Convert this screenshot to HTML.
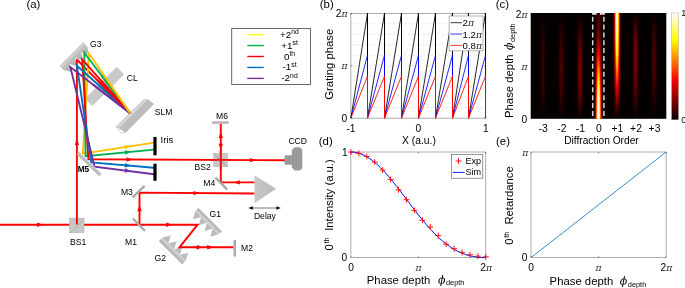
<!DOCTYPE html>
<html lang="en"><head><meta charset="utf-8"><title>Figure</title>
<style>
html,body{margin:0;padding:0;background:#fff;}
svg{display:block;font-family:"Liberation Sans",sans-serif;fill:#000;}
.pi{font-family:"DejaVu Serif","Liberation Serif",serif;font-style:italic;font-size:9.3px;fill:#2a2a2a;}
.phi{font-family:"DejaVu Serif","Liberation Serif",serif;font-style:italic;font-size:11px;}
.sub{font-size:7.4px;}
.lbl{font-size:8.6px;}
.tk{font-size:10.2px;}
.ax{font-size:11.3px;}
.pan{font-size:11.4px;}
.beam{fill:none;stroke-width:1.9;stroke-linejoin:miter;stroke-miterlimit:12;stroke-linecap:butt;}
</style></head><body>
<svg width="685" height="288" viewBox="0 0 685 288">
<defs>
<filter id="hot" x="0" y="0" width="100%" height="100%" color-interpolation-filters="sRGB"><feComponentTransfer><feFuncR type="table" tableValues="0.018 0.3333 0.6667 1 1 1 1 1 1"/><feFuncG type="table" tableValues="0 0 0 0 0.3333 0.6667 1 1 1"/><feFuncB type="table" tableValues="0 0 0 0 0 0 0 0.5 1"/></feComponentTransfer></filter>
<linearGradient id="cb" x1="0" y1="1" x2="0" y2="0"><stop offset="0" stop-color="#060000"/><stop offset="0.375" stop-color="#ff0000"/><stop offset="0.75" stop-color="#ffff00"/><stop offset="1" stop-color="#ffffff"/></linearGradient>
<linearGradient id="v0" x1="0" y1="0" x2="0" y2="1"><stop offset="0.0000" stop-color="#fff" stop-opacity="0.000"/><stop offset="0.0417" stop-color="#fff" stop-opacity="0.009"/><stop offset="0.0833" stop-color="#fff" stop-opacity="0.019"/><stop offset="0.1250" stop-color="#fff" stop-opacity="0.028"/><stop offset="0.1667" stop-color="#fff" stop-opacity="0.037"/><stop offset="0.2083" stop-color="#fff" stop-opacity="0.045"/><stop offset="0.2500" stop-color="#fff" stop-opacity="0.053"/><stop offset="0.2917" stop-color="#fff" stop-opacity="0.060"/><stop offset="0.3333" stop-color="#fff" stop-opacity="0.066"/><stop offset="0.3750" stop-color="#fff" stop-opacity="0.071"/><stop offset="0.4167" stop-color="#fff" stop-opacity="0.076"/><stop offset="0.4583" stop-color="#fff" stop-opacity="0.078"/><stop offset="0.5000" stop-color="#fff" stop-opacity="0.080"/><stop offset="0.5417" stop-color="#fff" stop-opacity="0.080"/><stop offset="0.5833" stop-color="#fff" stop-opacity="0.079"/><stop offset="0.6250" stop-color="#fff" stop-opacity="0.077"/><stop offset="0.6667" stop-color="#fff" stop-opacity="0.073"/><stop offset="0.7083" stop-color="#fff" stop-opacity="0.068"/><stop offset="0.7500" stop-color="#fff" stop-opacity="0.061"/><stop offset="0.7917" stop-color="#fff" stop-opacity="0.053"/><stop offset="0.8333" stop-color="#fff" stop-opacity="0.044"/><stop offset="0.8750" stop-color="#fff" stop-opacity="0.034"/><stop offset="0.9167" stop-color="#fff" stop-opacity="0.024"/><stop offset="0.9583" stop-color="#fff" stop-opacity="0.012"/><stop offset="1.0000" stop-color="#fff" stop-opacity="0.000"/></linearGradient>
<linearGradient id="v1" x1="0" y1="0" x2="0" y2="1"><stop offset="0.0000" stop-color="#fff" stop-opacity="0.000"/><stop offset="0.0417" stop-color="#fff" stop-opacity="0.012"/><stop offset="0.0833" stop-color="#fff" stop-opacity="0.025"/><stop offset="0.1250" stop-color="#fff" stop-opacity="0.037"/><stop offset="0.1667" stop-color="#fff" stop-opacity="0.049"/><stop offset="0.2083" stop-color="#fff" stop-opacity="0.061"/><stop offset="0.2500" stop-color="#fff" stop-opacity="0.072"/><stop offset="0.2917" stop-color="#fff" stop-opacity="0.082"/><stop offset="0.3333" stop-color="#fff" stop-opacity="0.091"/><stop offset="0.3750" stop-color="#fff" stop-opacity="0.099"/><stop offset="0.4167" stop-color="#fff" stop-opacity="0.105"/><stop offset="0.4583" stop-color="#fff" stop-opacity="0.109"/><stop offset="0.5000" stop-color="#fff" stop-opacity="0.112"/><stop offset="0.5417" stop-color="#fff" stop-opacity="0.113"/><stop offset="0.5833" stop-color="#fff" stop-opacity="0.112"/><stop offset="0.6250" stop-color="#fff" stop-opacity="0.109"/><stop offset="0.6667" stop-color="#fff" stop-opacity="0.104"/><stop offset="0.7083" stop-color="#fff" stop-opacity="0.097"/><stop offset="0.7500" stop-color="#fff" stop-opacity="0.088"/><stop offset="0.7917" stop-color="#fff" stop-opacity="0.077"/><stop offset="0.8333" stop-color="#fff" stop-opacity="0.065"/><stop offset="0.8750" stop-color="#fff" stop-opacity="0.050"/><stop offset="0.9167" stop-color="#fff" stop-opacity="0.035"/><stop offset="0.9583" stop-color="#fff" stop-opacity="0.018"/><stop offset="1.0000" stop-color="#fff" stop-opacity="0.000"/></linearGradient>
<linearGradient id="v2" x1="0" y1="0" x2="0" y2="1"><stop offset="0.0000" stop-color="#fff" stop-opacity="0.000"/><stop offset="0.0417" stop-color="#fff" stop-opacity="0.019"/><stop offset="0.0833" stop-color="#fff" stop-opacity="0.038"/><stop offset="0.1250" stop-color="#fff" stop-opacity="0.057"/><stop offset="0.1667" stop-color="#fff" stop-opacity="0.076"/><stop offset="0.2083" stop-color="#fff" stop-opacity="0.095"/><stop offset="0.2500" stop-color="#fff" stop-opacity="0.113"/><stop offset="0.2917" stop-color="#fff" stop-opacity="0.130"/><stop offset="0.3333" stop-color="#fff" stop-opacity="0.146"/><stop offset="0.3750" stop-color="#fff" stop-opacity="0.159"/><stop offset="0.4167" stop-color="#fff" stop-opacity="0.171"/><stop offset="0.4583" stop-color="#fff" stop-opacity="0.180"/><stop offset="0.5000" stop-color="#fff" stop-opacity="0.187"/><stop offset="0.5417" stop-color="#fff" stop-opacity="0.190"/><stop offset="0.5833" stop-color="#fff" stop-opacity="0.191"/><stop offset="0.6250" stop-color="#fff" stop-opacity="0.188"/><stop offset="0.6667" stop-color="#fff" stop-opacity="0.182"/><stop offset="0.7083" stop-color="#fff" stop-opacity="0.172"/><stop offset="0.7500" stop-color="#fff" stop-opacity="0.158"/><stop offset="0.7917" stop-color="#fff" stop-opacity="0.141"/><stop offset="0.8333" stop-color="#fff" stop-opacity="0.120"/><stop offset="0.8750" stop-color="#fff" stop-opacity="0.095"/><stop offset="0.9167" stop-color="#fff" stop-opacity="0.067"/><stop offset="0.9583" stop-color="#fff" stop-opacity="0.035"/><stop offset="1.0000" stop-color="#fff" stop-opacity="0.000"/></linearGradient>
<linearGradient id="v3" x1="0" y1="0" x2="0" y2="1"><stop offset="0.0000" stop-color="#fff" stop-opacity="0.122"/><stop offset="0.0417" stop-color="#fff" stop-opacity="0.123"/><stop offset="0.0833" stop-color="#fff" stop-opacity="0.127"/><stop offset="0.1250" stop-color="#fff" stop-opacity="0.138"/><stop offset="0.1667" stop-color="#fff" stop-opacity="0.157"/><stop offset="0.2083" stop-color="#fff" stop-opacity="0.185"/><stop offset="0.2500" stop-color="#fff" stop-opacity="0.221"/><stop offset="0.2917" stop-color="#fff" stop-opacity="0.264"/><stop offset="0.3333" stop-color="#fff" stop-opacity="0.313"/><stop offset="0.3750" stop-color="#fff" stop-opacity="0.366"/><stop offset="0.4167" stop-color="#fff" stop-opacity="0.423"/><stop offset="0.4583" stop-color="#fff" stop-opacity="0.482"/><stop offset="0.5000" stop-color="#fff" stop-opacity="0.541"/><stop offset="0.5417" stop-color="#fff" stop-opacity="0.601"/><stop offset="0.5833" stop-color="#fff" stop-opacity="0.660"/><stop offset="0.6250" stop-color="#fff" stop-opacity="0.717"/><stop offset="0.6667" stop-color="#fff" stop-opacity="0.771"/><stop offset="0.7083" stop-color="#fff" stop-opacity="0.820"/><stop offset="0.7500" stop-color="#fff" stop-opacity="0.865"/><stop offset="0.7917" stop-color="#fff" stop-opacity="0.905"/><stop offset="0.8333" stop-color="#fff" stop-opacity="0.938"/><stop offset="0.8750" stop-color="#fff" stop-opacity="0.965"/><stop offset="0.9167" stop-color="#fff" stop-opacity="0.984"/><stop offset="0.9583" stop-color="#fff" stop-opacity="0.996"/><stop offset="1.0000" stop-color="#fff" stop-opacity="1.000"/></linearGradient>
<linearGradient id="v4" x1="0" y1="0" x2="0" y2="1"><stop offset="0.0000" stop-color="#fff" stop-opacity="1.000"/><stop offset="0.0417" stop-color="#fff" stop-opacity="0.997"/><stop offset="0.0833" stop-color="#fff" stop-opacity="0.989"/><stop offset="0.1250" stop-color="#fff" stop-opacity="0.974"/><stop offset="0.1667" stop-color="#fff" stop-opacity="0.955"/><stop offset="0.2083" stop-color="#fff" stop-opacity="0.930"/><stop offset="0.2500" stop-color="#fff" stop-opacity="0.900"/><stop offset="0.2917" stop-color="#fff" stop-opacity="0.866"/><stop offset="0.3333" stop-color="#fff" stop-opacity="0.827"/><stop offset="0.3750" stop-color="#fff" stop-opacity="0.784"/><stop offset="0.4167" stop-color="#fff" stop-opacity="0.738"/><stop offset="0.4583" stop-color="#fff" stop-opacity="0.689"/><stop offset="0.5000" stop-color="#fff" stop-opacity="0.637"/><stop offset="0.5417" stop-color="#fff" stop-opacity="0.583"/><stop offset="0.5833" stop-color="#fff" stop-opacity="0.527"/><stop offset="0.6250" stop-color="#fff" stop-opacity="0.471"/><stop offset="0.6667" stop-color="#fff" stop-opacity="0.413"/><stop offset="0.7083" stop-color="#fff" stop-opacity="0.357"/><stop offset="0.7500" stop-color="#fff" stop-opacity="0.300"/><stop offset="0.7917" stop-color="#fff" stop-opacity="0.245"/><stop offset="0.8333" stop-color="#fff" stop-opacity="0.191"/><stop offset="0.8750" stop-color="#fff" stop-opacity="0.139"/><stop offset="0.9167" stop-color="#fff" stop-opacity="0.090"/><stop offset="0.9583" stop-color="#fff" stop-opacity="0.043"/><stop offset="1.0000" stop-color="#fff" stop-opacity="0.000"/></linearGradient>
<linearGradient id="v5" x1="0" y1="0" x2="0" y2="1"><stop offset="0.0000" stop-color="#fff" stop-opacity="0.000"/><stop offset="0.0417" stop-color="#fff" stop-opacity="0.035"/><stop offset="0.0833" stop-color="#fff" stop-opacity="0.067"/><stop offset="0.1250" stop-color="#fff" stop-opacity="0.095"/><stop offset="0.1667" stop-color="#fff" stop-opacity="0.120"/><stop offset="0.2083" stop-color="#fff" stop-opacity="0.141"/><stop offset="0.2500" stop-color="#fff" stop-opacity="0.158"/><stop offset="0.2917" stop-color="#fff" stop-opacity="0.172"/><stop offset="0.3333" stop-color="#fff" stop-opacity="0.182"/><stop offset="0.3750" stop-color="#fff" stop-opacity="0.188"/><stop offset="0.4167" stop-color="#fff" stop-opacity="0.191"/><stop offset="0.4583" stop-color="#fff" stop-opacity="0.190"/><stop offset="0.5000" stop-color="#fff" stop-opacity="0.187"/><stop offset="0.5417" stop-color="#fff" stop-opacity="0.180"/><stop offset="0.5833" stop-color="#fff" stop-opacity="0.171"/><stop offset="0.6250" stop-color="#fff" stop-opacity="0.159"/><stop offset="0.6667" stop-color="#fff" stop-opacity="0.146"/><stop offset="0.7083" stop-color="#fff" stop-opacity="0.130"/><stop offset="0.7500" stop-color="#fff" stop-opacity="0.113"/><stop offset="0.7917" stop-color="#fff" stop-opacity="0.095"/><stop offset="0.8333" stop-color="#fff" stop-opacity="0.076"/><stop offset="0.8750" stop-color="#fff" stop-opacity="0.057"/><stop offset="0.9167" stop-color="#fff" stop-opacity="0.038"/><stop offset="0.9583" stop-color="#fff" stop-opacity="0.019"/><stop offset="1.0000" stop-color="#fff" stop-opacity="0.000"/></linearGradient>
<linearGradient id="v6" x1="0" y1="0" x2="0" y2="1"><stop offset="0.0000" stop-color="#fff" stop-opacity="0.000"/><stop offset="0.0417" stop-color="#fff" stop-opacity="0.018"/><stop offset="0.0833" stop-color="#fff" stop-opacity="0.035"/><stop offset="0.1250" stop-color="#fff" stop-opacity="0.050"/><stop offset="0.1667" stop-color="#fff" stop-opacity="0.065"/><stop offset="0.2083" stop-color="#fff" stop-opacity="0.077"/><stop offset="0.2500" stop-color="#fff" stop-opacity="0.088"/><stop offset="0.2917" stop-color="#fff" stop-opacity="0.097"/><stop offset="0.3333" stop-color="#fff" stop-opacity="0.104"/><stop offset="0.3750" stop-color="#fff" stop-opacity="0.109"/><stop offset="0.4167" stop-color="#fff" stop-opacity="0.112"/><stop offset="0.4583" stop-color="#fff" stop-opacity="0.113"/><stop offset="0.5000" stop-color="#fff" stop-opacity="0.112"/><stop offset="0.5417" stop-color="#fff" stop-opacity="0.109"/><stop offset="0.5833" stop-color="#fff" stop-opacity="0.105"/><stop offset="0.6250" stop-color="#fff" stop-opacity="0.099"/><stop offset="0.6667" stop-color="#fff" stop-opacity="0.091"/><stop offset="0.7083" stop-color="#fff" stop-opacity="0.082"/><stop offset="0.7500" stop-color="#fff" stop-opacity="0.072"/><stop offset="0.7917" stop-color="#fff" stop-opacity="0.061"/><stop offset="0.8333" stop-color="#fff" stop-opacity="0.049"/><stop offset="0.8750" stop-color="#fff" stop-opacity="0.037"/><stop offset="0.9167" stop-color="#fff" stop-opacity="0.025"/><stop offset="0.9583" stop-color="#fff" stop-opacity="0.012"/><stop offset="1.0000" stop-color="#fff" stop-opacity="0.000"/></linearGradient>
<linearGradient id="prism" x1="0" y1="0" x2="1" y2="0"><stop offset="0" stop-color="#c8c8c8"/><stop offset="1" stop-color="#b9b9b9"/></linearGradient>
</defs>
<rect x="0" y="0" width="685" height="288" fill="#fff"/>
<g id="panel-a">
<text class="pan" x="26.4" y="8.2">(a)</text>
<rect x="-22.5" y="-5.2" width="45" height="10.4" rx="1.6" fill="#c9c9c9" transform="translate(104.5,86.5) rotate(-45)"/>
<polygon points="118.5,128.0 147.7,99.3 154.0,104.0 125.7,132.7" fill="#bcbcbc"/>
<polygon points="115.6,126.6 144.2,98.7 148.0,99.2 118.8,128.2" fill="#d3d3d3"/>
<path d="M116.0,126.6 L118.6,127.6 L125.4,132.5 Q123,133.6 120.6,132.6 Z" fill="#fbfbfb" stroke="#b0b0b0" stroke-width="0.6"/>
<polygon points="195.40,211.10 193.00,219.40 201.20,216.90" fill="#bcbcbc"/>
<polygon points="201.20,216.90 198.80,225.20 207.00,222.70" fill="#bcbcbc"/>
<polygon points="207.00,222.70 204.60,231.00 212.80,228.50" fill="#bcbcbc"/>
<polygon points="212.80,228.50 210.40,236.80 218.60,234.30" fill="#bcbcbc"/>
<polygon points="195.40,211.10 218.60,234.30 221.71,231.19 198.51,207.99" fill="#cdcdcd"/>
<polygon points="196.80,209.70 220.00,232.90 221.71,231.19 198.51,207.99" fill="#b9b9b9"/>
<polygon points="162.50,237.60 170.80,235.40 168.30,243.40" fill="#bcbcbc"/>
<polygon points="168.30,243.40 176.60,241.20 174.10,249.20" fill="#bcbcbc"/>
<polygon points="174.10,249.20 182.40,247.00 179.90,255.00" fill="#bcbcbc"/>
<polygon points="179.90,255.00 188.20,252.80 185.70,260.80" fill="#bcbcbc"/>
<polygon points="162.50,237.60 185.70,260.80 182.16,264.34 158.96,241.14" fill="#cdcdcd"/>
<polygon points="160.91,239.19 184.11,262.39 182.16,264.34 158.96,241.14" fill="#b9b9b9"/>
<polygon points="87.20,46.40 88.70,54.40 81.30,52.30" fill="#b4b4b4"/>
<polygon points="81.30,52.30 82.80,60.30 75.40,58.20" fill="#b4b4b4"/>
<polygon points="75.40,58.20 76.90,66.20 69.50,64.10" fill="#b4b4b4"/>
<polygon points="69.50,64.10 71.00,72.10 63.60,70.00" fill="#b4b4b4"/>
<polygon points="87.20,46.40 63.60,70.00 59.57,65.97 83.17,42.37" fill="#bdbdbd"/>
<polygon points="85.39,44.59 61.79,68.19 59.57,65.97 83.17,42.37" fill="#cfcfcf"/>
<g class="beam">
<path d="M0,224.7 H197.6 L179.5,247.3 H233.5" stroke="#ff0000"/>
</g>
<rect x="69.4" y="218.1" width="14.6" height="14.6" fill="#c6c6c6" stroke="#ababab" stroke-width="0.5"/>
<path d="M69.9,232.8 L84.1,218.6" stroke="#a6a6a6" stroke-width="0.8" fill="none"/>
<path d="M69.3,232.2 L83.5,218.0" stroke="#dcdcdc" stroke-width="0.8" fill="none"/>
<path class="beam" d="M129.8,112.9 L77.6,60.3 L76.9,60.3 V224.4" stroke="#ff0000"/>
<g class="beam">
<path d="M139.5,224.7 V192.6 L254.6,193.5" stroke="#ff0000"/>
<path d="M254.6,182.4 H220.8 V123.8" stroke="#ff0000"/>
<path d="M129.8,112.9 L88.9,53.5 L82.9,153.6 L154,142.6" stroke="#ffc000"/>
<path d="M129.8,112.9 L84.3,52.8 L85.6,156.3 L154,149.6" stroke="#00b050"/>
<path d="M129.8,112.9 L82.2,59.4 L88.4,159.2 L285.5,160.3" stroke="#ff0000"/>
<path d="M129.8,112.9 L76.9,65.7 L91.3,162.4 L154,167.7" stroke="#0070c0"/>
<path d="M129.8,112.9 L70.4,67.1 L94.5,166.6 L154,174.2" stroke="#7030a0"/>
<path d="M129.8,112.9 L97.00,83.64" stroke="#0070c0"/>
<path d="M129.8,112.9 L101.59,75.64" stroke="#00b050"/>
<path d="M129.8,112.9 L97.44,80.29" stroke="#ff0000"/>
<path d="M129.8,112.9 L100.29,79.73" stroke="#ff0000"/>
<path d="M129.8,112.9 L92.97,84.50" stroke="#7030a0"/>
<path d="M129.8,112.9 L104.44,76.07" stroke="#ffc000"/>
</g>
<polygon points="76.45,154.19 99.25,176.19 101.55,173.81 78.75,151.81" fill="#b9b9b9" />
<polygon points="78.19,152.42 100.99,174.42 101.61,173.78 78.81,151.78" fill="#d4d4d4" />
<rect x="153.4" y="136.9" width="3.2" height="18.4" fill="#000"/>
<rect x="153.4" y="163.7" width="3.2" height="17.1" fill="#000"/>
<polygon points="132.04,219.33 144.14,231.83 145.86,230.17 133.76,217.67" fill="#a9a9a9" />
<polygon points="133.33,198.17 145.43,186.67 143.77,184.93 131.67,196.43" fill="#a9a9a9" />
<polygon points="214.54,178.34 226.44,190.44 228.16,188.76 216.26,176.66" fill="#a9a9a9" />
<rect x="233.5" y="240.0" width="2.5" height="16.5" fill="#ababab"/>
<rect x="212.1" y="121.3" width="16.6" height="2.5" fill="#b5b5b5"/>
<rect x="213.1" y="152.9" width="14.8" height="14.2" fill="#b4b4b4" fill-opacity="0.72"/>
<path d="M213.6,153.4 L227.4,166.6" stroke="#9a9a9a" stroke-opacity="0.7" stroke-width="1.1" fill="none"/>
<path class="beam" d="M220.8,150 V170" stroke="#ff0000" stroke-opacity="0.85"/>
<path class="beam" d="M210,159.9 H231" stroke="#ff0000" stroke-opacity="0.85"/>
<polygon points="254.5,175.2 254.5,203.3 276.0,188.8" fill="url(#prism)"/>
<path d="M250,208 H279" stroke="#555" stroke-width="0.8" fill="none"/>
<polygon points="2.20,0 -2.20,1.70 -2.20,-1.70" fill="#000" transform="translate(250.60,208.00) rotate(180.0)"/>
<polygon points="2.20,0 -2.20,1.70 -2.20,-1.70" fill="#000" transform="translate(278.60,208.00) rotate(0.0)"/>
<path d="M285.6,155.2 Q284.6,155.2 284.6,156.2 V163.8 Q284.6,164.8 285.6,164.8 H291.8 V167.6 L294.6,170.6 H299.8 L302.3,168.2 V149.8 L299.8,147.3 H294.6 L291.8,150.2 V155.2 Z" fill="#9a9a9a"/>
<polygon points="3.10,0 -3.10,2.20 -3.10,-2.20" fill="#ff0000" transform="translate(40.20,224.70) rotate(0.0)"/>
<polygon points="3.10,0 -3.10,2.20 -3.10,-2.20" fill="#ff0000" transform="translate(76.90,141.80) rotate(-90.0)"/>
<polygon points="3.10,0 -3.10,2.20 -3.10,-2.20" fill="#ff0000" transform="translate(169.20,224.70) rotate(0.0)"/>
<polygon points="3.10,0 -3.10,2.20 -3.10,-2.20" fill="#ff0000" transform="translate(139.50,208.20) rotate(-90.0)"/>
<polygon points="3.10,0 -3.10,2.20 -3.10,-2.20" fill="#ff0000" transform="translate(196.60,193.10) rotate(0.0)"/>
<polygon points="3.10,0 -3.10,2.20 -3.10,-2.20" fill="#ff0000" transform="translate(196.00,247.30) rotate(180.0)"/>
<polygon points="3.10,0 -3.10,2.20 -3.10,-2.20" fill="#ff0000" transform="translate(210.30,247.30) rotate(0.0)"/>
<polygon points="3.10,0 -3.10,2.20 -3.10,-2.20" fill="#ff0000" transform="translate(236.80,182.40) rotate(180.0)"/>
<polygon points="3.10,0 -3.10,2.20 -3.10,-2.20" fill="#ff0000" transform="translate(220.80,134.90) rotate(-90.0)"/>
<polygon points="3.10,0 -3.10,2.20 -3.10,-2.20" fill="#ff0000" transform="translate(220.80,146.90) rotate(90.0)"/>
<polygon points="3.10,0 -3.10,2.20 -3.10,-2.20" fill="#ff0000" transform="translate(129.60,159.45) rotate(0.0)"/>
<polygon points="3.10,0 -3.10,2.20 -3.10,-2.20" fill="#ff0000" transform="translate(253.30,160.10) rotate(0.0)"/>
<polygon points="3.10,0 -3.10,2.20 -3.10,-2.20" fill="#ffc000" transform="translate(128.00,146.62) rotate(-8.8)"/>
<polygon points="3.10,0 -3.10,2.20 -3.10,-2.20" fill="#00b050" transform="translate(128.00,152.15) rotate(-5.6)"/>
<polygon points="3.10,0 -3.10,2.20 -3.10,-2.20" fill="#0070c0" transform="translate(128.00,165.50) rotate(4.8)"/>
<polygon points="3.10,0 -3.10,2.20 -3.10,-2.20" fill="#7030a0" transform="translate(128.00,170.88) rotate(7.3)"/>
<text class="lbl" x="95.8" y="46.8" text-anchor="middle" >G3</text>
<text class="lbl" x="132.3" y="81.2" text-anchor="middle" >CL</text>
<text class="lbl" x="163.5" y="115.0" text-anchor="middle" >SLM</text>
<text class="lbl" style="font-size:9.6px" x="167.0" y="142.8" text-anchor="middle" >Iris</text>
<text class="lbl" style="font-weight:bold;font-size:8.3px" x="83.4" y="172.3" text-anchor="middle" >M5</text>
<text class="lbl" x="126.9" y="195.0" text-anchor="middle" >M3</text>
<text class="lbl" x="131.0" y="245.4" text-anchor="middle" >M1</text>
<text class="lbl" x="78.1" y="244.9" text-anchor="middle" >BS1</text>
<text class="lbl" x="215.3" y="217.4" text-anchor="middle" >G1</text>
<text class="lbl" x="160.2" y="261.0" text-anchor="middle" >G2</text>
<text class="lbl" x="247.1" y="250.9" text-anchor="middle" >M2</text>
<text class="lbl" x="209.3" y="186.3" text-anchor="middle" >M4</text>
<text class="lbl" x="202.6" y="169.9" text-anchor="middle" >BS2</text>
<text class="lbl" x="222.1" y="118.7" text-anchor="middle" >M6</text>
<text class="lbl" x="297.7" y="143.7" text-anchor="middle" >CCD</text>
<text class="lbl" x="264.9" y="218.9" text-anchor="middle" >Delay</text>
<rect x="231.7" y="28.5" width="78.8" height="56" fill="#fff" stroke="#595959" stroke-width="0.9"/>
<path d="M247.3,34.60 H263.8" stroke="#ffff00" stroke-width="1.4" fill="none"/>
<text x="289.5" y="37.60" text-anchor="middle" style="font-size:9.9px">+2<tspan dy="-3.3" style="font-size:6.8px">nd</tspan></text>
<path d="M247.3,45.55 H263.8" stroke="#00b050" stroke-width="1.4" fill="none"/>
<text x="289.5" y="48.55" text-anchor="middle" style="font-size:9.9px">+1<tspan dy="-3.3" style="font-size:6.8px">st</tspan></text>
<path d="M247.3,56.50 H263.8" stroke="#ff0000" stroke-width="1.4" fill="none"/>
<text x="289.5" y="59.50" text-anchor="middle" style="font-size:9.9px">0<tspan dy="-3.3" style="font-size:6.8px">th</tspan></text>
<path d="M247.3,67.45 H263.8" stroke="#0070c0" stroke-width="1.4" fill="none"/>
<text x="289.5" y="70.45" text-anchor="middle" style="font-size:9.9px">-1<tspan dy="-3.3" style="font-size:6.8px">st</tspan></text>
<path d="M247.3,78.40 H263.8" stroke="#7030a0" stroke-width="1.4" fill="none"/>
<text x="289.5" y="81.40" text-anchor="middle" style="font-size:9.9px">-2<tspan dy="-3.3" style="font-size:6.8px">nd</tspan></text>
</g>
<g id="panel-b">
<text class="pan" x="319.8" y="8.2" text-anchor="start" >(b)</text>
<rect x="350.9" y="13.3" width="134.90000000000003" height="104.8" fill="#fff"/>
<path d="M350.9,107.62 H485.8" stroke="#d9d9d9" stroke-width="0.6" stroke-dasharray="2.2 1.6" fill="none"/>
<path d="M350.9,97.14 H485.8" stroke="#d9d9d9" stroke-width="0.6" stroke-dasharray="2.2 1.6" fill="none"/>
<path d="M350.9,86.66 H485.8" stroke="#d9d9d9" stroke-width="0.6" stroke-dasharray="2.2 1.6" fill="none"/>
<path d="M350.9,76.18 H485.8" stroke="#d9d9d9" stroke-width="0.6" stroke-dasharray="2.2 1.6" fill="none"/>
<path d="M350.9,65.70 H485.8" stroke="#d9d9d9" stroke-width="0.6" stroke-dasharray="2.2 1.6" fill="none"/>
<path d="M350.9,55.22 H485.8" stroke="#d9d9d9" stroke-width="0.6" stroke-dasharray="2.2 1.6" fill="none"/>
<path d="M350.9,44.74 H485.8" stroke="#d9d9d9" stroke-width="0.6" stroke-dasharray="2.2 1.6" fill="none"/>
<path d="M350.9,34.26 H485.8" stroke="#d9d9d9" stroke-width="0.6" stroke-dasharray="2.2 1.6" fill="none"/>
<path d="M350.9,23.78 H485.8" stroke="#d9d9d9" stroke-width="0.6" stroke-dasharray="2.2 1.6" fill="none"/>
<rect x="350.9" y="13.3" width="134.90000000000003" height="104.8" fill="none" stroke="#777" stroke-width="0.6"/>
<path d="M350.90,118.10 L367.50,13.30 M367.50,118.10 L384.50,13.30 M384.50,118.10 L401.50,13.30 M401.50,118.10 L418.50,13.30 M418.50,118.10 L435.50,13.30 M435.50,118.10 L452.50,13.30 M452.50,118.10 L468.50,13.30 M468.50,118.10 L485.50,13.30 " stroke="#000" stroke-width="0.85" fill="none"/>
<path d="M367.50,13.00 V118.10 M384.50,13.00 V118.10 M401.50,13.00 V118.10 M418.50,13.00 V118.10 M435.50,13.00 V118.10 M452.50,13.00 V118.10 M468.50,13.00 V118.10 M485.50,13.00 V118.10 " stroke="#000" stroke-width="1" fill="none"/>
<path d="M350.90,118.10 L367.50,55.22 M367.50,118.10 L384.50,55.22 M384.50,118.10 L401.50,55.22 M401.50,118.10 L418.50,55.22 M418.50,118.10 L435.50,55.22 M435.50,118.10 L452.50,55.22 M452.50,118.10 L468.50,55.22 M468.50,118.10 L485.50,55.22 " stroke="#0000ff" stroke-width="0.85" fill="none"/>
<path d="M367.50,54.92 V118.10 M384.50,54.92 V118.10 M401.50,54.92 V118.10 M418.50,54.92 V118.10 M435.50,54.92 V118.10 M452.50,54.92 V118.10 M468.50,54.92 V118.10 M485.50,54.92 V118.10 " stroke="#0000ff" stroke-width="1" fill="none"/>
<path d="M350.90,118.10 L367.50,76.18 M367.50,118.10 L384.50,76.18 M384.50,118.10 L401.50,76.18 M401.50,118.10 L418.50,76.18 M418.50,118.10 L435.50,76.18 M435.50,118.10 L452.50,76.18 M452.50,118.10 L468.50,76.18 M468.50,118.10 L485.50,76.18 " stroke="#ff0000" stroke-width="0.85" fill="none"/>
<path d="M367.50,75.88 V118.10 M384.50,75.88 V118.10 M401.50,75.88 V118.10 M418.50,75.88 V118.10 M435.50,75.88 V118.10 M452.50,75.88 V118.10 M468.50,75.88 V118.10 M485.50,75.88 V118.10 " stroke="#ff0000" stroke-width="1" fill="none"/>
<path d="M350.90,118.1 v-1.4 M350.90,13.3 v1.4" stroke="#262626" stroke-width="0.5"/>
<path d="M418.35,118.1 v-1.4 M418.35,13.3 v1.4" stroke="#262626" stroke-width="0.5"/>
<path d="M485.80,118.1 v-1.4 M485.80,13.3 v1.4" stroke="#262626" stroke-width="0.5"/>
<path d="M350.9,13.30 h1.4 M485.8,13.30 h-1.4" stroke="#262626" stroke-width="0.5"/>
<path d="M350.9,65.70 h1.4 M485.8,65.70 h-1.4" stroke="#262626" stroke-width="0.5"/>
<path d="M350.9,118.10 h1.4 M485.8,118.10 h-1.4" stroke="#262626" stroke-width="0.5"/>
<text class="tk" x="347.6" y="17.0" text-anchor="end" >2<tspan class="pi" dx="0.1">π</tspan></text>
<text class="tk" x="347.6" y="69.2" text-anchor="end" ><tspan class="pi" dx="0.1">π</tspan></text>
<text class="tk" x="347.2" y="122.3" text-anchor="end" >0</text>
<text class="tk" x="351.0" y="131.8" text-anchor="middle" >-1</text>
<text class="tk" x="418.4" y="131.8" text-anchor="middle" >0</text>
<text class="tk" x="485.8" y="131.8" text-anchor="middle" >1</text>
<text class="ax" style="font-size:10.3px" x="419.0" y="144.1" text-anchor="middle" >X (a.u.)</text>
<text class="ax" text-anchor="middle" transform="translate(332.7,64.2) rotate(-90)">Grating phase</text>
<rect x="449.1" y="16.0" width="33.9" height="34.9" fill="#fff" stroke="#808080" stroke-width="0.6"/>
<path d="M450.6,22.70 H462.0" stroke="#000" stroke-width="0.8"/>
<text class="tk" x="462.6" y="26.20" style="font-size:9.6px">2<tspan class="pi" dx="0.1">π</tspan></text>
<path d="M450.6,34.05 H462.0" stroke="#0000ff" stroke-width="0.8"/>
<text class="tk" x="462.6" y="37.55" style="font-size:9.6px">1.2<tspan class="pi" dx="0.1">π</tspan></text>
<path d="M450.6,45.40 H462.0" stroke="#ff0000" stroke-width="0.8"/>
<text class="tk" x="462.6" y="48.90" style="font-size:9.6px">0.8<tspan class="pi" dx="0.1">π</tspan></text>
</g>
<g id="panel-c">
<text class="pan" x="495.8" y="8.3" text-anchor="start" >(c)</text>
<g filter="url(#hot)">
<rect x="530.7" y="13.0" width="135.5999999999999" height="105.8" fill="#000"/>
<rect x="538" y="13.0" width="1.00" height="105.8" fill="url(#v0)" opacity="0.028"/>
<rect x="539" y="13.0" width="1.00" height="105.8" fill="url(#v0)" opacity="0.121"/>
<rect x="540" y="13.0" width="1.00" height="105.8" fill="url(#v0)" opacity="0.354"/>
<rect x="541" y="13.0" width="1.00" height="105.8" fill="url(#v0)" opacity="0.710"/>
<rect x="542" y="13.0" width="1.00" height="105.8" fill="url(#v0)" opacity="0.977"/>
<rect x="543" y="13.0" width="1.00" height="105.8" fill="url(#v0)" opacity="0.924"/>
<rect x="544" y="13.0" width="1.00" height="105.8" fill="url(#v0)" opacity="0.599"/>
<rect x="545" y="13.0" width="1.00" height="105.8" fill="url(#v0)" opacity="0.267"/>
<rect x="546" y="13.0" width="1.00" height="105.8" fill="url(#v0)" opacity="0.082"/>
<rect x="547" y="13.0" width="1.00" height="105.8" fill="url(#v0)" opacity="0.017"/>
<rect x="556" y="13.0" width="1.00" height="105.8" fill="url(#v1)" opacity="0.011"/>
<rect x="557" y="13.0" width="1.00" height="105.8" fill="url(#v1)" opacity="0.057"/>
<rect x="558" y="13.0" width="1.00" height="105.8" fill="url(#v1)" opacity="0.205"/>
<rect x="559" y="13.0" width="1.00" height="105.8" fill="url(#v1)" opacity="0.507"/>
<rect x="560" y="13.0" width="1.00" height="105.8" fill="url(#v1)" opacity="0.859"/>
<rect x="561" y="13.0" width="1.00" height="105.8" fill="url(#v1)" opacity="0.998"/>
<rect x="562" y="13.0" width="1.00" height="105.8" fill="url(#v1)" opacity="0.796"/>
<rect x="563" y="13.0" width="1.00" height="105.8" fill="url(#v1)" opacity="0.436"/>
<rect x="564" y="13.0" width="1.00" height="105.8" fill="url(#v1)" opacity="0.164"/>
<rect x="565" y="13.0" width="1.00" height="105.8" fill="url(#v1)" opacity="0.042"/>
<rect x="575" y="13.0" width="1.00" height="105.8" fill="url(#v2)" opacity="0.024"/>
<rect x="576" y="13.0" width="1.00" height="105.8" fill="url(#v2)" opacity="0.106"/>
<rect x="577" y="13.0" width="1.00" height="105.8" fill="url(#v2)" opacity="0.323"/>
<rect x="578" y="13.0" width="1.00" height="105.8" fill="url(#v2)" opacity="0.673"/>
<rect x="579" y="13.0" width="1.00" height="105.8" fill="url(#v2)" opacity="0.963"/>
<rect x="580" y="13.0" width="1.00" height="105.8" fill="url(#v2)" opacity="0.945"/>
<rect x="581" y="13.0" width="1.00" height="105.8" fill="url(#v2)" opacity="0.636"/>
<rect x="582" y="13.0" width="1.00" height="105.8" fill="url(#v2)" opacity="0.294"/>
<rect x="583" y="13.0" width="1.00" height="105.8" fill="url(#v2)" opacity="0.093"/>
<rect x="584" y="13.0" width="1.00" height="105.8" fill="url(#v2)" opacity="0.020"/>
<rect x="593" y="13.0" width="1.00" height="105.8" fill="url(#v3)" opacity="0.017"/>
<rect x="594" y="13.0" width="1.00" height="105.8" fill="url(#v3)" opacity="0.073"/>
<rect x="595" y="13.0" width="1.00" height="105.8" fill="url(#v3)" opacity="0.230"/>
<rect x="596" y="13.0" width="1.00" height="105.8" fill="url(#v3)" opacity="0.520"/>
<rect x="597" y="13.0" width="1.00" height="105.8" fill="url(#v3)" opacity="0.849"/>
<rect x="598" y="13.0" width="1.00" height="105.8" fill="url(#v3)" opacity="1.000"/>
<rect x="599" y="13.0" width="1.00" height="105.8" fill="url(#v3)" opacity="0.849"/>
<rect x="600" y="13.0" width="1.00" height="105.8" fill="url(#v3)" opacity="0.520"/>
<rect x="601" y="13.0" width="1.00" height="105.8" fill="url(#v3)" opacity="0.230"/>
<rect x="602" y="13.0" width="1.00" height="105.8" fill="url(#v3)" opacity="0.073"/>
<rect x="603" y="13.0" width="1.00" height="105.8" fill="url(#v3)" opacity="0.017"/>
<rect x="612" y="13.0" width="1.00" height="105.8" fill="url(#v4)" opacity="0.020"/>
<rect x="613" y="13.0" width="1.00" height="105.8" fill="url(#v4)" opacity="0.093"/>
<rect x="614" y="13.0" width="1.00" height="105.8" fill="url(#v4)" opacity="0.294"/>
<rect x="615" y="13.0" width="1.00" height="105.8" fill="url(#v4)" opacity="0.636"/>
<rect x="616" y="13.0" width="1.00" height="105.8" fill="url(#v4)" opacity="0.945"/>
<rect x="617" y="13.0" width="1.00" height="105.8" fill="url(#v4)" opacity="0.963"/>
<rect x="618" y="13.0" width="1.00" height="105.8" fill="url(#v4)" opacity="0.673"/>
<rect x="619" y="13.0" width="1.00" height="105.8" fill="url(#v4)" opacity="0.323"/>
<rect x="620" y="13.0" width="1.00" height="105.8" fill="url(#v4)" opacity="0.106"/>
<rect x="621" y="13.0" width="1.00" height="105.8" fill="url(#v4)" opacity="0.024"/>
<rect x="631" y="13.0" width="1.00" height="105.8" fill="url(#v5)" opacity="0.042"/>
<rect x="632" y="13.0" width="1.00" height="105.8" fill="url(#v5)" opacity="0.164"/>
<rect x="633" y="13.0" width="1.00" height="105.8" fill="url(#v5)" opacity="0.436"/>
<rect x="634" y="13.0" width="1.00" height="105.8" fill="url(#v5)" opacity="0.796"/>
<rect x="635" y="13.0" width="1.00" height="105.8" fill="url(#v5)" opacity="0.998"/>
<rect x="636" y="13.0" width="1.00" height="105.8" fill="url(#v5)" opacity="0.859"/>
<rect x="637" y="13.0" width="1.00" height="105.8" fill="url(#v5)" opacity="0.507"/>
<rect x="638" y="13.0" width="1.00" height="105.8" fill="url(#v5)" opacity="0.205"/>
<rect x="639" y="13.0" width="1.00" height="105.8" fill="url(#v5)" opacity="0.057"/>
<rect x="640" y="13.0" width="1.00" height="105.8" fill="url(#v5)" opacity="0.011"/>
<rect x="649" y="13.0" width="1.00" height="105.8" fill="url(#v6)" opacity="0.017"/>
<rect x="650" y="13.0" width="1.00" height="105.8" fill="url(#v6)" opacity="0.082"/>
<rect x="651" y="13.0" width="1.00" height="105.8" fill="url(#v6)" opacity="0.267"/>
<rect x="652" y="13.0" width="1.00" height="105.8" fill="url(#v6)" opacity="0.599"/>
<rect x="653" y="13.0" width="1.00" height="105.8" fill="url(#v6)" opacity="0.924"/>
<rect x="654" y="13.0" width="1.00" height="105.8" fill="url(#v6)" opacity="0.977"/>
<rect x="655" y="13.0" width="1.00" height="105.8" fill="url(#v6)" opacity="0.710"/>
<rect x="656" y="13.0" width="1.00" height="105.8" fill="url(#v6)" opacity="0.354"/>
<rect x="657" y="13.0" width="1.00" height="105.8" fill="url(#v6)" opacity="0.121"/>
<rect x="658" y="13.0" width="1.00" height="105.8" fill="url(#v6)" opacity="0.028"/>
</g>
<path d="M592.7,16.7 V118.8 M603.9,16.7 V118.8" stroke="#d8d8d8" stroke-width="1.5" stroke-dasharray="5 2.85" fill="none"/>
<path d="M592.0,13.7 H596.6 M600.0,13.7 H604.9" stroke="#e0e0e0" stroke-width="1.9" fill="none"/>
<rect x="671.6" y="13.0" width="6.9" height="106.8" fill="url(#cb)" stroke="#999" stroke-width="0.4"/>
<text class="tk" style="font-size:9px" x="683.8" y="16.4" text-anchor="middle" >1</text>
<text class="tk" style="font-size:9px" x="683.8" y="123.1" text-anchor="middle" >0</text>
<text class="tk" x="527.6" y="17.8" text-anchor="end" >2<tspan class="pi" dx="0.1">π</tspan></text>
<text class="tk" x="527.6" y="70.0" text-anchor="end" ><tspan class="pi" dx="0.1">π</tspan></text>
<text class="tk" x="527.2" y="123.2" text-anchor="end" >0</text>
<text class="tk" style="font-size:10.4px" x="543.2" y="131.9" text-anchor="middle" >-3</text>
<text class="tk" style="font-size:10.4px" x="561.8" y="131.9" text-anchor="middle" >-2</text>
<text class="tk" style="font-size:10.4px" x="580.4" y="131.9" text-anchor="middle" >-1</text>
<text class="tk" style="font-size:10.4px" x="598.9" y="131.9" text-anchor="middle" >0</text>
<text class="tk" style="font-size:10.4px" x="617.4" y="131.9" text-anchor="middle" >+1</text>
<text class="tk" style="font-size:10.4px" x="636.0" y="131.9" text-anchor="middle" >+2</text>
<text class="tk" style="font-size:10.4px" x="654.5" y="131.9" text-anchor="middle" >+3</text>
<text class="ax" style="font-size:10.2px" x="564.2" y="143.6" text-anchor="start" >Diffraction Order</text>
<g transform="translate(513.0,118.0) rotate(-90)"><text class="ax" x="0" y="0" textLength="63.6" lengthAdjust="spacing">Phase depth</text><text class="phi" x="68.0" y="0">ϕ</text><text class="sub" x="76.0" y="1.7">depth</text></g>
</g>
<g id="panel-d">
<text class="pan" x="318.8" y="144.8" text-anchor="start" >(d)</text>
<rect x="350.9" y="152.0" width="134.90000000000003" height="105.60000000000002" fill="#fff" stroke="#777" stroke-width="0.6"/>
<path d="M350.90,257.6 v-1.4 M350.90,152.0 v1.4" stroke="#262626" stroke-width="0.5"/>
<path d="M418.35,257.6 v-1.4 M418.35,152.0 v1.4" stroke="#262626" stroke-width="0.5"/>
<path d="M485.80,257.6 v-1.4 M485.80,152.0 v1.4" stroke="#262626" stroke-width="0.5"/>
<path d="M350.90,152.00 L352.25,152.03 L353.60,152.14 L354.95,152.31 L356.30,152.55 L357.64,152.87 L358.99,153.24 L360.34,153.69 L361.69,154.20 L363.04,154.78 L364.39,155.43 L365.74,156.14 L367.09,156.91 L368.44,157.74 L369.79,158.64 L371.13,159.59 L372.48,160.60 L373.83,161.67 L375.18,162.79 L376.53,163.96 L377.88,165.19 L379.23,166.46 L380.58,167.78 L381.93,169.15 L383.28,170.55 L384.62,172.00 L385.97,173.49 L387.32,175.02 L388.67,176.58 L390.02,178.17 L391.37,179.79 L392.72,181.44 L394.07,183.11 L395.42,184.81 L396.77,186.52 L398.12,188.26 L399.46,190.01 L400.81,191.77 L402.16,193.54 L403.51,195.33 L404.86,197.11 L406.21,198.90 L407.56,200.70 L408.91,202.49 L410.26,204.27 L411.61,206.06 L412.95,207.83 L414.30,209.59 L415.65,211.34 L417.00,213.08 L418.35,214.80 L419.70,216.50 L421.05,218.19 L422.40,219.85 L423.75,221.48 L425.10,223.10 L426.44,224.68 L427.79,226.24 L429.14,227.76 L430.49,229.26 L431.84,230.72 L433.19,232.14 L434.54,233.54 L435.89,234.89 L437.24,236.21 L438.59,237.50 L439.93,238.74 L441.28,239.94 L442.63,241.10 L443.98,242.23 L445.33,243.31 L446.68,244.35 L448.03,245.35 L449.38,246.30 L450.73,247.22 L452.07,248.09 L453.42,248.92 L454.77,249.71 L456.12,250.45 L457.47,251.16 L458.82,251.82 L460.17,252.45 L461.52,253.03 L462.87,253.58 L464.22,254.08 L465.56,254.55 L466.91,254.98 L468.26,255.37 L469.61,255.73 L470.96,256.05 L472.31,256.34 L473.66,256.59 L475.01,256.82 L476.36,257.01 L477.71,257.17 L479.06,257.31 L480.40,257.42 L481.75,257.50 L483.10,257.56 L484.45,257.59 L485.80,257.60 " stroke="#0000ff" stroke-width="1.0" fill="none"/>
<path d="M347.90,152.00 h6 M350.90,149.00 v6 M355.84,153.37 h6 M358.84,150.37 v6 M363.77,156.54 h6 M366.77,153.54 v6 M371.71,162.14 h6 M374.71,159.14 v6 M379.64,170.06 h6 M382.64,167.06 v6 M387.58,179.46 h6 M390.58,176.46 v6 M395.51,189.80 h6 M398.51,186.80 v6 M403.45,199.73 h6 M406.45,196.73 v6 M411.38,210.40 h6 M414.38,207.40 v6 M419.32,220.32 h6 M422.32,217.32 v6 M427.25,226.98 h6 M430.25,223.98 v6 M435.19,235.64 h6 M438.19,232.64 v6 M443.12,244.19 h6 M446.12,241.19 v6 M451.06,248.73 h6 M454.06,245.73 v6 M458.99,252.32 h6 M461.99,249.32 v6 M466.93,254.75 h6 M469.93,251.75 v6 M474.86,256.12 h6 M477.86,253.12 v6 M482.80,256.86 h6 M485.80,253.86 v6 " stroke="#ff0000" stroke-width="0.9" fill="none"/>
<text class="tk" x="347.6" y="156.3" text-anchor="end" >1</text>
<text class="tk" x="347.2" y="260.9" text-anchor="end" >0</text>
<text class="tk" x="351.0" y="271.0" text-anchor="middle" >0</text>
<text class="tk" x="418.4" y="271.0" text-anchor="middle" ><tspan class="pi" dx="0.1">π</tspan></text>
<text class="tk" x="486.3" y="271.0" text-anchor="middle" >2<tspan class="pi" dx="0.1">π</tspan></text>
<g transform="translate(366.8,283.6)"><text class="ax" x="0" y="0" textLength="63.6" lengthAdjust="spacing">Phase depth</text><text class="phi" x="71.2" y="0">ϕ</text><text class="sub" x="79.2" y="1.7">depth</text></g>
<g transform="translate(332.7,250.5) rotate(-90)"><text class="ax" x="0" y="0">0</text><text class="sub" x="7.0" y="-3.8">th</text><text class="ax" x="19.7" y="0">Intensity (a.u.)</text></g>
<rect x="451.5" y="154.5" width="31.3" height="23.7" fill="#fff" stroke="#555" stroke-width="0.6"/>
<path d="M455.5,161 h6 M458.5,158 v6" stroke="#ff0000" stroke-width="0.9"/>
<path d="M452.8,172.4 H464.7" stroke="#0000ff" stroke-width="0.9"/>
<text x="465.5" y="163.9" style="font-size:9.1px">Exp</text>
<text x="465.5" y="175.4" style="font-size:9.1px">Sim</text>
</g>
<g id="panel-e">
<text class="pan" x="496.0" y="145.0" text-anchor="start" >(e)</text>
<rect x="531.0" y="152.0" width="135.10000000000002" height="105.60000000000002" fill="#fff" stroke="#777" stroke-width="0.6"/>
<path d="M531.00,257.6 v-1.4 M531.00,152.0 v1.4" stroke="#262626" stroke-width="0.5"/>
<path d="M598.55,257.6 v-1.4 M598.55,152.0 v1.4" stroke="#262626" stroke-width="0.5"/>
<path d="M666.10,257.6 v-1.4 M666.10,152.0 v1.4" stroke="#262626" stroke-width="0.5"/>
<path d="M531.0,257.6 L666.1,152.0" stroke="#0072bd" stroke-width="0.8" fill="none"/>
<text class="tk" x="528.2" y="156.2" text-anchor="end" ><tspan class="pi" dx="0.1">π</tspan></text>
<text class="tk" x="527.4" y="261.0" text-anchor="end" >0</text>
<text class="tk" x="531.1" y="270.6" text-anchor="middle" >0</text>
<text class="tk" x="598.5" y="270.6" text-anchor="middle" ><tspan class="pi" dx="0.1">π</tspan></text>
<text class="tk" x="666.4" y="270.6" text-anchor="middle" >2<tspan class="pi" dx="0.1">π</tspan></text>
<g transform="translate(549.6,284.8)"><text class="ax" x="0" y="0" textLength="63.6" lengthAdjust="spacing">Phase depth</text><text class="phi" x="70.2" y="0">ϕ</text><text class="sub" x="78.2" y="1.7">depth</text></g>
<g transform="translate(512.7,244.8) rotate(-90)"><text class="ax" x="0" y="0">0</text><text class="sub" x="7.0" y="-3.8">th</text><text class="ax" x="20.2" y="0">Retardance</text></g>
</g>
</svg>
</body></html>
